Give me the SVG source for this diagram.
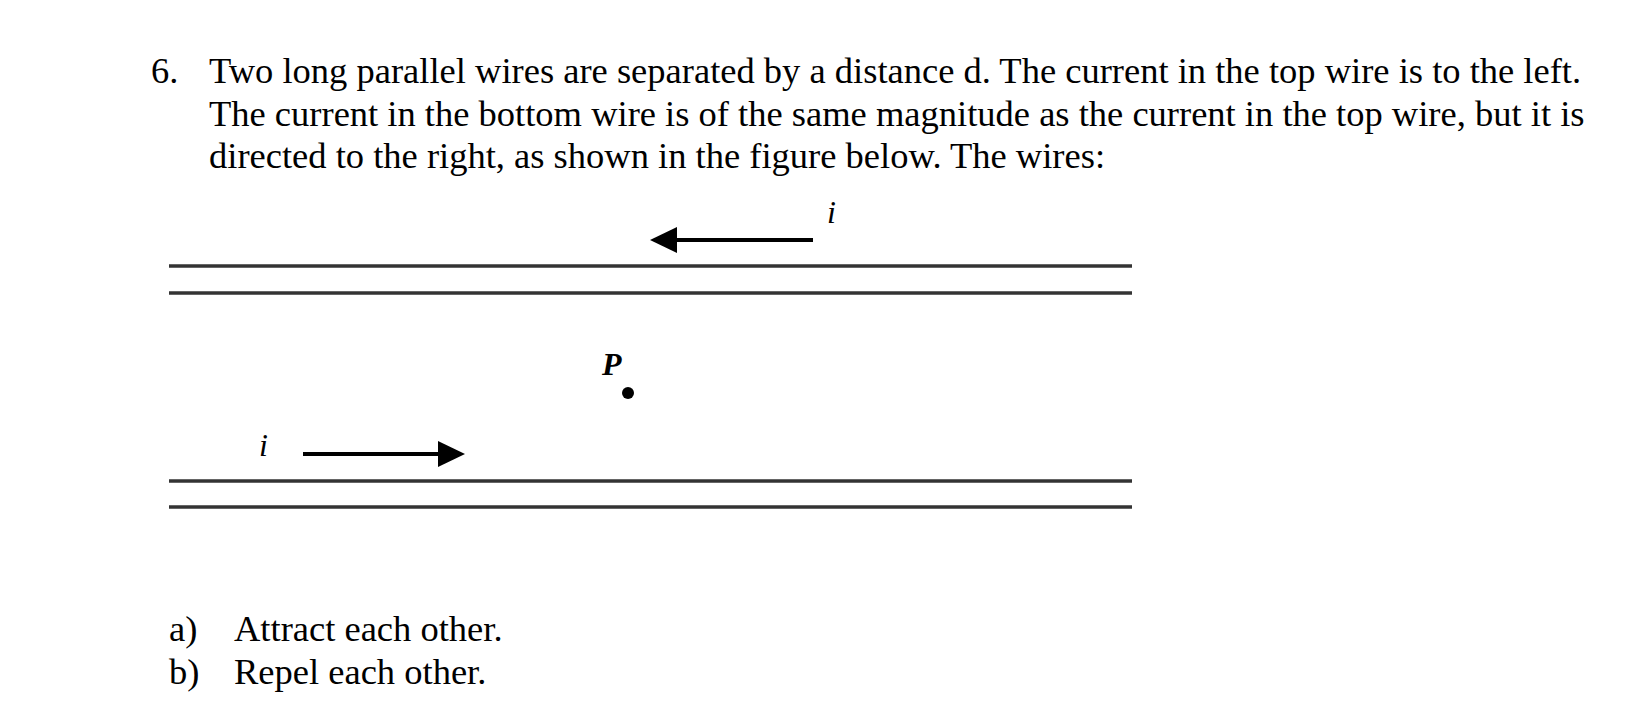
<svg xmlns="http://www.w3.org/2000/svg" width="1647" height="722" viewBox="0 0 1647 722">
<style>
text{font-family:"Liberation Serif","Times New Roman",serif;font-size:36.5px;fill:#000}
.w{stroke:#333;stroke-width:3.5}
.a{stroke:#000;stroke-width:4}
.it{font-style:italic;font-size:32px}
</style>
<rect width="1647" height="722" fill="#fff"/>
<g id="question">
<text x="151" y="83">6.</text>
<text x="209" y="83">Two long parallel wires are separated by a distance d. The current in the top wire is to the left.</text>
<text x="209" y="126">The current in the bottom wire is of the same magnitude as the current in the top wire, but it is</text>
<text x="209" y="168">directed to the right, as shown in the figure below. The wires:</text>
</g>
<g id="wires">
<line class="w" x1="169" y1="266" x2="1132" y2="266"/>
<line class="w" x1="169" y1="293" x2="1132" y2="293"/>
<line class="w" x1="169" y1="481" x2="1132" y2="481"/>
<line class="w" x1="169" y1="507" x2="1132" y2="507"/>
</g>
<g id="connectors">
<line class="a" x1="813" y1="240" x2="670" y2="240"/>
<polygon points="650,240 677,227 677,253"/>
<line class="a" x1="303" y1="454" x2="445" y2="454"/>
<polygon points="465,454 438,441 438,467"/>
</g>
<g id="labels">
<text class="it" x="827" y="223">i</text>
<text class="it" x="259" y="456">i</text>
<text class="it" x="602" y="375" font-weight="bold">P</text>
<circle cx="628" cy="393" r="6"/>
</g>
<g id="options">
<text x="169" y="641">a)</text>
<text x="234" y="641">Attract each other.</text>
<text x="169" y="684">b)</text>
<text x="234" y="684">Repel each other.</text>
</g>
</svg>
